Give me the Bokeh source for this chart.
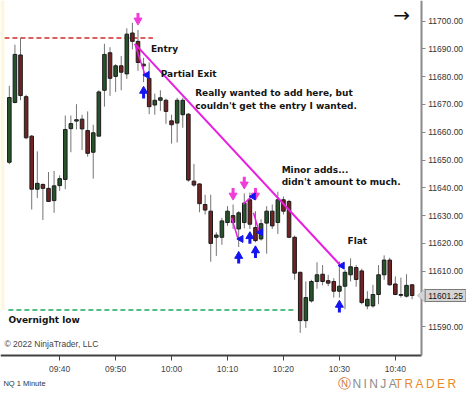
import math
from bokeh.plotting import figure
from bokeh.models import FixedTicker, NumeralTickFormatter, Label, PolyAnnotation, BoxAnnotation
from bokeh.core.properties import value
from bokeh.embed import file_html
from bokeh.resources import INLINE

# ---------------- data (minutes relative to 10:00, NQ 1 minute bars 09:31 .. 10:43) -------------
bar_minute = list(range(-29, 44))
bar_open = [11649.2, 11670.7, 11687.8, 11672.8, 11658.6, 11639.5, 11641.2, 11639.8, 11635.4, 11640.8,
            11643.0, 11661.3, 11664.0, 11664.7, 11660.6, 11652.8, 11658.6, 11675.1, 11688.6, 11680.1,
            11683.9, 11681.0, 11695.7, 11692.7, 11684.5, 11679.4, 11669.8, 11671.5, 11671.5,
            11664.1, 11663.3, 11666.3, 11666.5, 11642.4, 11641.4, 11634.0, 11631.6, 11622.2, 11622.2,
            11627.5, 11630.0, 11625.2, 11627.5, 11635.7, 11625.7, 11621.6, 11627.3, 11631.6, 11627.5,
            11635.7, 11635.1, 11622.2, 11609.6, 11592.2, 11599.3, 11606.3, 11608.9, 11606.6, 11606.3,
            11602.8, 11604.6, 11608.7, 11611.3, 11610.1, 11597.5, 11597.5, 11601.6, 11608.7, 11614.0,
            11605.4, 11601.6, 11601.0, 11605.1]
bar_high = [11676.7, 11691.5, 11693.9, 11673.5, 11659.0, 11653.1, 11641.6, 11645.7, 11646.1, 11644.5,
            11666.0, 11666.0, 11670.1, 11666.3, 11667.5, 11662.7, 11675.1, 11691.8, 11690.6, 11684.5,
            11687.4, 11697.4, 11699.4, 11696.8, 11686.8, 11685.1, 11673.9, 11675.1, 11672.1,
            11666.3, 11672.4, 11672.4, 11666.9, 11648.6, 11641.6, 11637.5, 11637.5, 11624.0, 11629.2,
            11633.4, 11634.0, 11631.6, 11638.0, 11638.3, 11631.6, 11628.7, 11633.4, 11634.0, 11638.6,
            11636.9, 11635.7, 11622.8, 11609.8, 11606.3, 11606.9, 11613.2, 11612.2, 11608.7, 11607.5,
            11613.5, 11610.4, 11614.6, 11612.2, 11610.9, 11602.8, 11605.1, 11612.2, 11615.7, 11614.8,
            11608.1, 11607.7, 11608.9, 11605.4]
bar_low = [11648.5, 11670.4, 11671.5, 11657.5, 11632.2, 11636.3, 11628.4, 11635.0, 11631.0, 11638.9,
           11639.5, 11652.8, 11661.0, 11653.6, 11651.2, 11643.3, 11658.6, 11669.2, 11673.1, 11674.5,
           11675.1, 11679.2, 11689.8, 11682.1, 11678.0, 11666.5, 11666.3, 11667.7, 11663.0,
           11655.9, 11656.3, 11661.6, 11642.2, 11640.4, 11631.2, 11630.4, 11613.4, 11615.5, 11619.5,
           11626.3, 11625.2, 11618.7, 11625.4, 11625.2, 11620.4, 11621.0, 11616.3, 11625.2, 11623.4,
           11630.4, 11622.0, 11606.9, 11587.8, 11589.6, 11598.7, 11603.7, 11604.9, 11604.6, 11600.5,
           11600.5, 11596.3, 11606.3, 11604.4, 11598.1, 11596.3, 11596.9, 11598.1, 11606.9, 11604.8,
           11601.4, 11600.5, 11600.5, 11599.9]
bar_close = [11672.5, 11688.0, 11673.2, 11658.0, 11639.5, 11641.6, 11639.8, 11635.1, 11640.7, 11643.3,
             11661.0, 11663.1, 11664.5, 11661.2, 11652.4, 11659.8, 11674.5, 11688.0, 11679.4, 11683.9,
             11681.6, 11695.3, 11692.7, 11685.1, 11683.9, 11669.2, 11671.5, 11672.4, 11667.5,
             11662.7, 11671.5, 11671.5, 11642.8, 11641.0, 11634.3, 11632.0, 11620.0, 11623.0, 11628.1,
             11631.6, 11627.5, 11631.0, 11634.5, 11626.9, 11621.0, 11627.1, 11631.6, 11626.3, 11635.7,
             11631.6, 11622.2, 11609.3, 11592.2, 11600.5, 11606.3, 11608.7, 11606.3, 11605.7, 11602.8,
             11604.6, 11609.6, 11611.6, 11607.0, 11598.7, 11599.9, 11601.6, 11608.7, 11614.0, 11605.1,
             11601.6, 11601.3, 11604.9, 11601.25]

time_ticks = [-20, -10, 0, 10, 20, 30, 40]
time_labels = ["09:40", "09:50", "10:00", "10:10", "10:20", "10:30", "10:40"]
price_ticks = [11590, 11600, 11610, 11620, 11630, 11640, 11650, 11660, 11670, 11680, 11690, 11700]
last_price = 11601.25

entry_level = 11693.9
entry_level_from, entry_level_to = -29.88, -3.34
overnight_low = 11596.0
overnight_from, overnight_to = -29.17, 22.14

sell_minute = [-6, 11, 13, 15]
sell_price = [11698.8, 11635.8, 11639.8, 11635.8]
buy_minute = [-5, 12, 14, 15, 30]
buy_price = [11676.3, 11616.9, 11624.0, 11618.9, 11599.3]
exit_minute = [-4.4, 12.4, 14.6, 15.9, 30.5]
exit_price = [11680.6, 11621.6, 11636.9, 11624.0, 11612.0]

trend_x = [-6.56, 30.05]
trend_y = [11691.8, 11612.4]
trade_x0 = [-6.56, 10.72, 12.78, 14.64]
trade_y0 = [11691.8, 11629.2, 11634.0, 11631.0]
trade_x1 = [-4.8, 11.9, 14.41, 15.69]
trade_y1 = [11681.0, 11621.6, 11637.1, 11623.9]

note_text = ["Entry", "Partial Exit", "Really wanted to add here, but", "couldn't get the entry I wanted.",
             "Minor adds...", "didn't amount to much.", "Flat", "Overnight low"]
note_x = [-3.69, -1.93, 4.22, 4.22, 19.68, 19.68, 31.46, -29.17]
note_y = [11689.8, 11681.0, 11674.1, 11669.5, 11646.4, 11642.0, 11621.0, 11592.6]

# ---------------- layout helpers: reference-image pixel -> data ----------------
REF_W, REF_H = 474, 398
W, H = 466, 390


def rx(px):          # reference x pixel -> minutes from 10:00
    return (px - 174.0) / 5.69


def ry(py):          # reference y pixel -> price
    return 11700.0 - (py - 21.0) / 2.836


PX = 1 / 2.836 * REF_H / H      # price per rendered pixel (approx)

p = figure(width=W, height=H, x_range=(rx(0), rx(REF_W)), y_range=(ry(REF_H), ry(0)),
           y_axis_location="right", output_backend="svg", toolbar_location=None,
           min_border=0, min_border_left=0, min_border_right=0, min_border_top=0, min_border_bottom=0,
           background_fill_color="white", border_fill_color="white", outline_line_color=None)
p.xgrid.visible = False
p.ygrid.visible = False

# axes (fixed inside the full-canvas frame)
p.xaxis.fixed_location = ry(362)
p.xaxis.bounds = (rx(0), rx(428))
p.xaxis.ticker = FixedTicker(ticks=time_ticks)
p.xaxis.major_label_overrides = {t: l for t, l in zip(time_ticks, time_labels)}
p.xaxis.axis_line_color = "#404040"
p.xaxis.axis_line_width = 2
p.xaxis.major_tick_line_color = "#404040"
p.xaxis.major_tick_out = 5
p.xaxis.major_tick_in = 0
p.xaxis.minor_tick_line_color = None
p.xaxis.major_label_standoff = 4
p.xaxis.major_label_text_font = "Liberation Sans"
p.xaxis.major_label_text_font_size = "8.5px"
p.xaxis.major_label_text_color = "#444444"

p.yaxis.fixed_location = rx(428)
p.yaxis.bounds = (ry(362), ry(0))
p.yaxis.ticker = FixedTicker(ticks=price_ticks)
p.yaxis.formatter = NumeralTickFormatter(format="0.00")
p.yaxis.major_label_overrides = {11600: ""}
p.yaxis.axis_line_color = "#8a8a8a"
p.yaxis.axis_line_width = 2
p.yaxis.major_tick_line_color = "#8a8a8a"
p.yaxis.major_tick_out = 4
p.yaxis.major_tick_in = 0
p.yaxis.minor_tick_line_color = None
p.yaxis.major_label_standoff = 3
p.yaxis.major_label_text_font = "Liberation Sans"
p.yaxis.major_label_text_font_size = "8.5px"
p.yaxis.major_label_text_color = "#333333"

# pale strip at the left edge
p.add_layout(BoxAnnotation(left=rx(0), right=rx(4), top=ry(0), bottom=ry(316),
                           fill_color="#fdf7dc", fill_alpha=1, line_color=None))

# reference levels
p.line([entry_level_from, entry_level_to], [entry_level, entry_level], line_color="#d42a2a",
       line_width=1.5, line_dash="5 3")
p.line([overnight_from, overnight_to], [overnight_low, overnight_low], line_color="#1aa85a",
       line_width=1.5, line_dash="5 3")

# candles
up = [c >= o for o, c in zip(bar_open, bar_close)]
body_top = [max(o, c) for o, c in zip(bar_open, bar_close)]
body_bot = [min(o, c) for o, c in zip(bar_open, bar_close)]
body_col = ["#27532a" if u else "#722222" for u in up]
p.segment(x0=bar_minute, y0=bar_low, x1=bar_minute, y1=bar_high, line_color="#747474", line_width=1)
p.vbar(x=bar_minute, width=0.64, top=body_top, bottom=body_bot, fill_color=body_col,
       line_color="#1c1c1c", line_width=1)

# trade lines
PINK = "#e61fe0"
BLUE = "#1414f0"
p.line(trend_x, trend_y, line_color=PINK, line_width=2)
p.segment(x0=trade_x0, y0=trade_y0, x1=trade_x1, y1=trade_y1, line_color=PINK, line_width=1.5)

# sell arrows (down, above bar)
p.segment(x0=sell_minute, y0=[s + 5.0 * PX for s in sell_price], x1=sell_minute,
          y1=[s + 11.5 * PX for s in sell_price], line_color="#f03cd8", line_width=3)
p.scatter(x=sell_minute, y=[s + 4.0 * PX for s in sell_price], marker="inverted_triangle", size=8,
          fill_color="#f03cd8", line_color="#f03cd8")
# buy arrows (up, below bar)
p.segment(x0=buy_minute, y0=[b - 5.0 * PX for b in buy_price], x1=buy_minute,
          y1=[b - 11.5 * PX for b in buy_price], line_color=BLUE, line_width=3)
p.scatter(x=buy_minute, y=[b - 4.0 * PX for b in buy_price], marker="triangle", size=8,
          fill_color=BLUE, line_color=BLUE)
# exit markers
p.scatter(x=exit_minute, y=exit_price, marker="triangle", angle=math.pi / 2, size=7,
          fill_color=BLUE, line_color=BLUE)

# notes
p.text(x=note_x, y=note_y, text=note_text, text_font=value("DejaVu Sans"), text_font_style="bold",
       text_font_size="9px", text_baseline="middle", text_align="left", text_color="#141414")
p.text(x=[rx(4)], y=[ry(351)], text=["\u00a9 2022 NinjaTrader, LLC"], text_font=value("Liberation Sans"),
       text_font_size="8.5px", text_baseline="middle", text_align="left", text_color="#444444")
p.text(x=[rx(408)], y=[ry(15)], text=["\u2192"], text_font=value("DejaVu Sans"),
       text_font_size="20px", text_baseline="middle", text_align="center", text_color="#111111")

# bottom / right decorations
p.add_layout(Label(x=rx(3), y=ry(391), text="NQ 1 Minute", text_font="Liberation Sans",
                   text_font_size="7.5px", text_baseline="middle", text_color="#333333"))
p.add_layout(PolyAnnotation(xs=[rx(424), rx(432), rx(432)],
                            ys=[last_price, last_price + 7 * PX, last_price - 7 * PX],
                            fill_color="#d4d4d4", fill_alpha=1, line_color="#7a7a7a", line_width=1))
p.add_layout(Label(x=rx(432), y=last_price, text="11601.25", text_font="Liberation Sans",
                   text_font_size="8.5px", text_baseline="middle", text_align="left", text_color="#111111",
                   background_fill_color="#d4d4d4", border_line_color="#7a7a7a", padding=3))
p.add_layout(Label(x=rx(343), y=ry(391), text="\u24c3", text_font="DejaVu Sans", text_font_size="13px",
                   text_baseline="middle", text_color="#d0702c"))
p.add_layout(Label(x=rx(358), y=ry(391), text="N\u2009I\u2009N\u2009J\u2009A\u2009", text_font="Liberation Sans",
                   text_font_size="12px", text_baseline="middle", text_color="#8c8c8c"))
p.add_layout(Label(x=rx(401), y=ry(391), text="T\u2009R\u2009A\u2009D\u2009E\u2009R", text_font="Liberation Sans",
                   text_font_size="12px", text_baseline="middle", text_color="#ea8a26"))

open("out.html", "w").write(file_html(p, INLINE))
